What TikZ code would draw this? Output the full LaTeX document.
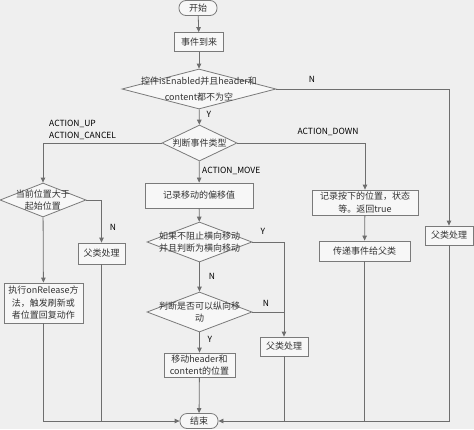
\documentclass[tikz,border=0pt]{standalone}
\usepackage{fontspec}
\setmainfont{Noto Sans CJK SC}
\usetikzlibrary{shapes.geometric,arrows.meta}
\definecolor{bggray}{HTML}{EFEFEF}
\definecolor{linegray}{HTML}{6E6E6E}
\definecolor{boxgray}{HTML}{7A7A7A}
\definecolor{boxfill}{HTML}{F7F7F7}
\definecolor{txtgray}{HTML}{333333}
\begin{document}
\begin{tikzpicture}[x=1pt,y=-1pt,
    font=\fontsize{9}{12.5}\selectfont, text=txtgray,
    line/.style={draw=linegray, line width=0.8pt},
    arr/.style={line, -{Triangle[length=5pt,width=4.5pt]}},
    proc/.style={draw=boxgray, fill=boxfill, line width=0.8pt, inner sep=1pt, align=center},
    decision/.style={diamond, draw=boxgray, fill=boxfill, line width=0.8pt, inner sep=0pt},
    term/.style={draw=boxgray, fill=boxfill, line width=0.8pt, rounded corners=7pt,
        minimum width=38pt, minimum height=15pt, inner sep=0pt},
    lbl/.style={font=\fontsize{8.5}{11.5}\selectfont, text=black, inner sep=0pt, align=left}]
    \fill[bggray] (0,0) rectangle (474,429);
    \useasboundingbox (0,0) rectangle (474,429);

    % main column
    \node[term] (start) at (198,8) {开始};
    \node[proc, minimum width=49pt, minimum height=19pt] (arrive) at (199,42) {事件到来};
    \node[decision, minimum width=154pt, minimum height=40pt,
        label={[align=center, inner sep=0pt, font=\fontsize{9}{16}\selectfont]center:控件isEnabled并且header和\\content都不为空}] (valid) at (199,89) {};
    \node[decision, minimum width=75pt, minimum height=36pt,
        label={[inner sep=0pt]center:判断事件类型}] (kind) at (199.5,143) {};
    \node[proc, minimum width=108pt, minimum height=25pt] (offset) at (199,195.5) {记录移动的偏移值};
    \node[decision, minimum width=105pt, minimum height=40pt,
        label={[align=center, inner sep=0pt]center:如果不阻止横向移动\\并且判断为横向移动}] (horiz) at (199.5,242) {};
    \node[decision, minimum width=105pt, minimum height=40pt,
        label={[align=center, inner sep=0pt]center:判断是否可以纵向移\\动}] (vert) at (199.5,312) {};
    \node[proc, minimum width=71pt, minimum height=24pt] (move) at (199.5,365) {移动header和\\content的位置};
    \node[term] (finish) at (199,421) {结束};

    % left branch
    \node[decision, minimum width=86pt, minimum height=34pt,
        label={[align=center, inner sep=0pt]center:当前位置大于\\起始位置}] (greater) at (43,200) {};
    \node[proc, minimum width=47pt, minimum height=21pt] (parentl) at (101.5,253.5) {父类处理};
    \node[proc, minimum width=79pt, minimum height=40pt] (release) at (43.5,303) {执行onRelease方\\法，触发刷新或\\者位置回复动作};

    % right branches
    \node[proc, minimum width=48pt, minimum height=19pt] (parentm) at (284,346.5) {父类处理};
    \node[proc, minimum width=106pt, minimum height=25pt] (down) at (365,202.5) {记录按下的位置，状态\\等。返回true};
    \node[proc, minimum width=91pt, minimum height=20pt] (pass) at (364.5,251) {传递事件给父类};
    \node[proc, minimum width=48pt, minimum height=19pt] (parentr) at (449,235.5) {父类处理};

    % labels
    \node[lbl] (nvalid) at (312,79) {N};
    \node[lbl] (yvalid) at (209,114) {Y};
    \node[lbl, anchor=west] (upcancel) at (49,130) {ACTION\_UP\\ACTION\_CANCEL};
    \node[lbl] (adown) at (328,132) {ACTION\_DOWN};
    \node[lbl, anchor=west] (amove) at (202,171) {ACTION\_MOVE};
    \node[lbl] (ngreater) at (113,227) {N};
    \node[lbl] (yhoriz) at (263,231) {Y};
    \node[lbl] (nhoriz) at (212,276) {N};
    \node[lbl] (nvert) at (266,303) {N};
    \node[lbl] (yvert) at (210,339) {Y};

    % connectors
    \draw[arr] (start) -- (arrive);
    \draw[arr] (arrive) -- (valid);
    \draw[arr] (valid) -- (kind);
    \draw[arr] (valid.east) -| (parentr.north);
    \draw[arr] (kind) -- (offset);
    \draw[arr] (kind.west) -| (greater.north);
    \draw[arr] (kind.east) -| (down.north);
    \draw[arr] (offset) -- (horiz);
    \draw[arr] (horiz) -- (vert);
    \draw[arr] (horiz.east) -| (parentm.north);
    \draw[line] (vert.east) -- (vert.east -| parentm);
    \draw[arr] (vert) -- (move);
    \draw[arr] (move) -- (finish);
    \draw[arr] (greater.east) -| (parentl.north);
    \draw[arr] (greater) -- (release);
    \draw[arr] (down) -- (pass);
    \draw[arr] (release) |- (finish.west);
    \draw[line] (parentl) -- (parentl |- finish);
    \draw[arr] (parentr) |- (finish.east);
    \draw[line] (parentm) -- (parentm |- finish);
    \draw[line] (pass) -- (pass |- finish);
\end{tikzpicture}
\end{document}
